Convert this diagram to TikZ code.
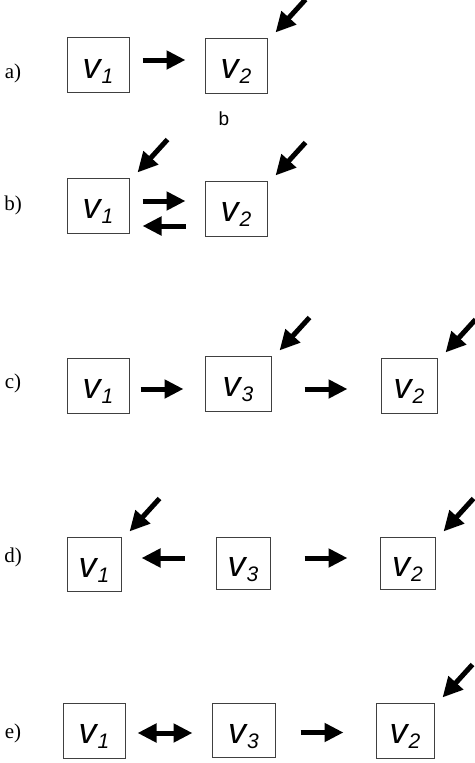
\documentclass[tikz,border=0pt]{standalone}
\usepackage{fontspec}
\setmainfont{Liberation Serif}
\setsansfont{Liberation Sans}
\usetikzlibrary{arrows.meta}
\usetikzlibrary{calc}

\newcommand{\vsub}[1]{{\sffamily\itshape v\hspace{1pt}\raisebox{-5pt}{\fontsize{21}{21}\selectfont #1}}}

\begin{document}
\begin{tikzpicture} [x=1pt, y=-1pt,
  vbox/.style={draw=black!75, line width=1pt, minimum width=62pt, minimum height=55pt,
    inner sep=0pt, text height=26pt, text depth=0pt, font=\fontsize{36}{36}\selectfont},
  row/.style={font=\fontsize{21}{21}\selectfont},
  flow/.style={line width=5pt, -{Triangle[length=19pt,width=18pt]}},
  hit/.style={line width=5pt, -{Triangle[length=20pt,width=19pt]}}]
\useasboundingbox (0,0) rectangle (474,763);

% a)
\node[row] (la) at (13,73) {a)};
\node[vbox] (a1) at (98,65) {\vsub{1}};
\node[vbox] (a2) at (236,65.5) {\vsub{2}};
\node[font=\sffamily\fontsize{19}{19}\selectfont] (blab) at (224,119) {b};
\draw[flow, shorten <=13pt, shorten >=19pt] ([yshift=5pt]a1.east) -- ([yshift=5pt]a1.east -| a2.west);

% b)
\node[row] (lb) at (13,205) {b)};
\node[vbox] (b1) at (98,205.5) {\vsub{1}};
\node[vbox] (b2) at (236,208.5) {\vsub{2}};
\draw[flow, shorten <=13pt, shorten >=19pt] ([yshift=4.5pt]b1.east) -- ([yshift=4.5pt]b1.east -| b2.west);
\draw[flow, shorten <=19pt, shorten >=13pt] ([yshift=-20.5pt]b1.east -| b2.west) -- ([yshift=-20.5pt]b1.east);

% c)
\node[row] (lc) at (13,383) {c)};
\node[vbox] (c1) at (98,385.5) {\vsub{1}};
\node[vbox, minimum width=66pt] (c3) at (238,383.5) {\vsub{3}};
\node[vbox, minimum width=56pt] (c2) at (409,385.5) {\vsub{2}};
\draw[flow, shorten <=11pt, shorten >=21pt] ([yshift=-3.5pt]c1.east) -- ([yshift=-3.5pt]c1.east -| c3.west);
\draw[flow, shorten <=33pt, shorten >=33pt] ([yshift=-5.5pt]c3.east) -- ([yshift=-5.5pt]c3.east -| c2.west);

% d)
\node[row] (ld) at (13,557) {d)};
\node[vbox, minimum width=54pt, minimum height=54pt] (d1) at (94,564) {\vsub{1}};
\node[vbox, minimum width=54pt, minimum height=52pt] (d3) at (243,563) {\vsub{3}};
\node[vbox, minimum width=55pt, minimum height=52pt] (d2) at (407.5,563) {\vsub{2}};
\draw[flow, shorten <=31pt, shorten >=20pt] ([yshift=5pt]d3.west) -- ([yshift=5pt]d3.west -| d1.east);
\draw[flow, shorten <=34pt, shorten >=32pt] ([yshift=5pt]d3.east) -- ([yshift=5pt]d3.east -| d2.west);

% e)
\node[row] (le) at (13,733) {e)};
\node[vbox] (e1) at (94,730.5) {\vsub{1}};
\node[vbox, minimum width=63pt, minimum height=54pt] (e3) at (243.5,730) {\vsub{3}};
\node[vbox, minimum width=58pt] (e2) at (405,730.5) {\vsub{2}};
\draw[flow, {Triangle[length=19pt,width=18pt]}-{Triangle[length=19pt,width=18pt]}, shorten <=12pt, shorten >=19pt] ([yshift=-2.5pt]e1.east) -- ([yshift=-2.5pt]e1.east -| e3.west);
\draw[flow, shorten <=25pt, shorten >=32pt] ([yshift=-2.5pt]e3.east) -- ([yshift=-2.5pt]e3.east -| e2.west);

% incoming arrows
\foreach \n in {a2,b1,b2,c3,c2,d1,d2,e2} {
  \coordinate (\n-in) at ([shift={(38,-38)}]\n.north east);
  \draw[hit] (\n-in) -- ([shift={(8,-5)}]\n.north east);
}
\end{tikzpicture}
\end{document}
